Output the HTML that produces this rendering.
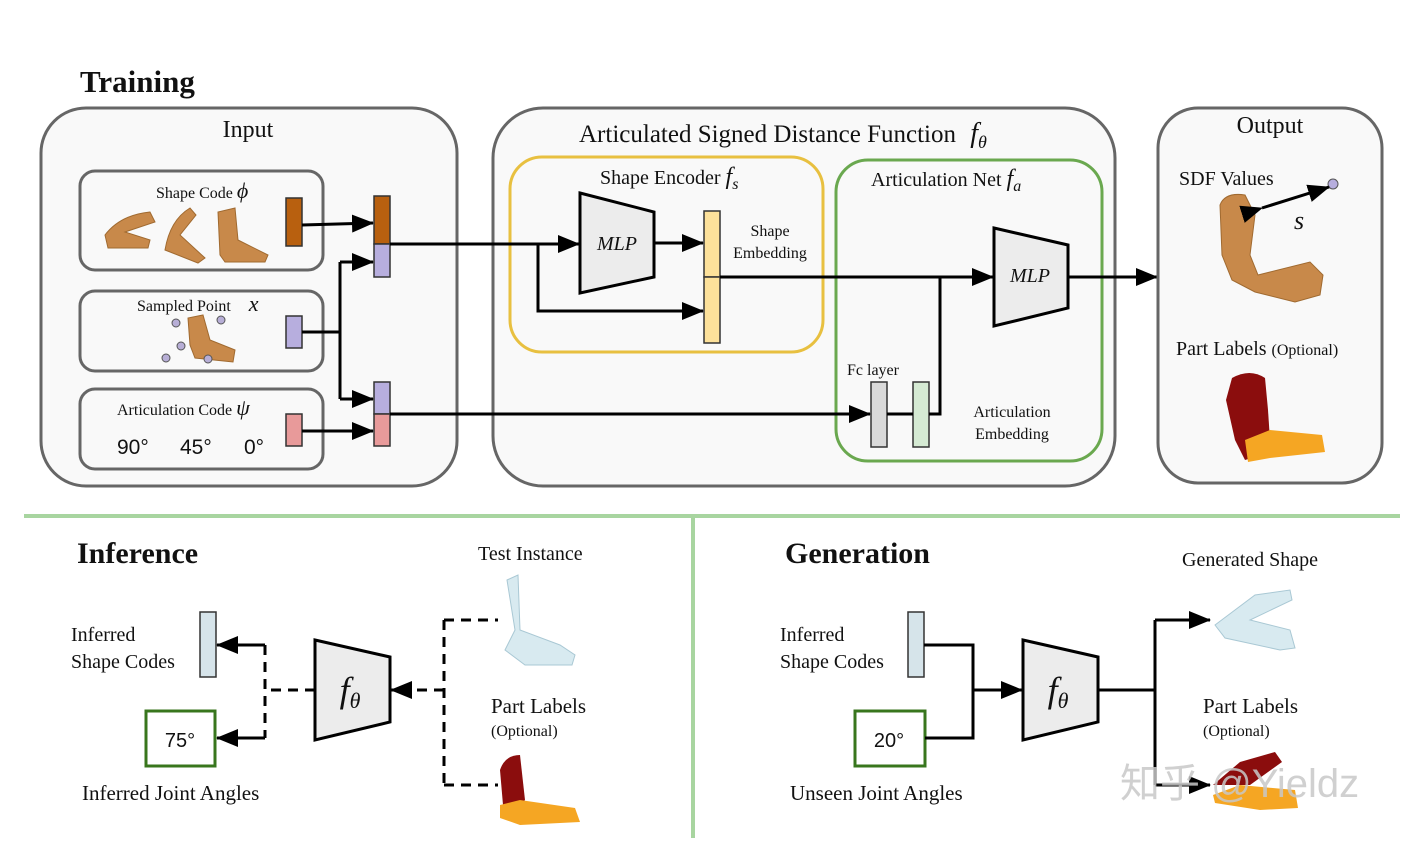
<!DOCTYPE html>
<html><head><meta charset="utf-8"><style>
html,body{margin:0;padding:0;background:#fff;}
svg{display:block;}
text{font-family:"Liberation Serif",serif;fill:#111;}
.s{font-family:"Liberation Sans",sans-serif;}
</style></head><body>
<svg width="1410" height="841" viewBox="0 0 1410 841" xmlns="http://www.w3.org/2000/svg">
<defs>
<marker id="b" markerWidth="22" markerHeight="18" refX="21" refY="9" orient="auto" markerUnits="userSpaceOnUse"><path d="M0,0 L22,9 L0,18z" fill="#000"/></marker>
</defs>
<text x="80" y="92" font-size="31" font-weight="bold">Training</text>

<!-- Input -->
<rect x="41" y="108" width="416" height="378" rx="45" fill="#f9f9f9" stroke="#666" stroke-width="3"/>
<text x="248" y="137" font-size="24" text-anchor="middle">Input</text>
<rect x="80" y="171" width="243" height="99" rx="15" fill="#f9f9f9" stroke="#666" stroke-width="3"/>
<rect x="80" y="291" width="243" height="80" rx="15" fill="#f9f9f9" stroke="#666" stroke-width="3"/>
<rect x="80" y="389" width="243" height="80" rx="15" fill="#f9f9f9" stroke="#666" stroke-width="3"/>
<text x="156" y="198" font-size="16">Shape Code <tspan font-style="italic" font-size="22">ϕ</tspan></text>
<text x="137" y="311" font-size="16">Sampled Point <tspan font-style="italic" font-size="22" dx="14">x</tspan></text>
<text x="117" y="415" font-size="16">Articulation Code <tspan font-style="italic" font-size="22">ψ</tspan></text>
<text x="117" y="454" font-size="21" class="s">90°</text>
<text x="180" y="454" font-size="21" class="s">45°</text>
<text x="244" y="454" font-size="21" class="s">0°</text>
<path d="M105,235 Q120,215 150,212 L155,222 L125,232 L150,240 L148,248 L108,248z" fill="#c8894a" stroke="#a06a30"/>
<path d="M165,250 Q170,220 190,208 L196,215 L180,235 L205,258 L198,263z" fill="#c8894a" stroke="#a06a30"/>
<path d="M220,255 L218,212 L235,208 L238,240 L268,255 L265,262 L225,262z" fill="#c8894a" stroke="#a06a30"/>
<path d="M190,345 L188,318 L203,315 L210,340 L235,350 L233,362 L195,358z" fill="#c8894a" stroke="#a06a30"/>
<g fill="#b7aed6" stroke="#555"><circle cx="176" cy="323" r="4"/><circle cx="221" cy="320" r="4"/><circle cx="181" cy="346" r="4"/><circle cx="166" cy="358" r="4"/><circle cx="208" cy="359" r="4"/></g>
<rect x="286" y="198" width="16" height="48" fill="#b8600f" stroke="#333" stroke-width="1.5"/>
<rect x="286" y="316" width="16" height="32" fill="#b7aede" stroke="#333" stroke-width="1.5"/>
<rect x="286" y="414" width="16" height="32" fill="#e89a9a" stroke="#333" stroke-width="1.5"/>
<rect x="374" y="196" width="16" height="48" fill="#b8600f" stroke="#333" stroke-width="1.5"/>
<rect x="374" y="244" width="16" height="33" fill="#b7aede" stroke="#333" stroke-width="1.5"/>
<rect x="374" y="382" width="16" height="32" fill="#b7aede" stroke="#333" stroke-width="1.5"/>
<rect x="374" y="414" width="16" height="32" fill="#e89a9a" stroke="#333" stroke-width="1.5"/>
<g stroke="#000" stroke-width="3" fill="none">
<path d="M302,225 L373,223" marker-end="url(#b)"/>
<path d="M302,332 L340,332 M340,262 L340,399"/>
<path d="M340,262 L373,262" marker-end="url(#b)"/>
<path d="M340,399 L373,399" marker-end="url(#b)"/>
<path d="M302,431 L373,431" marker-end="url(#b)"/>
</g>

<!-- ASDF -->
<rect x="493" y="108" width="622" height="378" rx="50" fill="#f9f9f9" stroke="#666" stroke-width="3"/>
<text x="579" y="142" font-size="25">Articulated Signed Distance Function <tspan font-style="italic" font-size="28" dx="8">f</tspan><tspan font-style="italic" font-size="18" dy="6">θ</tspan></text>
<rect x="510" y="157" width="313" height="195" rx="32" fill="none" stroke="#e8c040" stroke-width="3"/>
<rect x="836" y="160" width="266" height="301" rx="32" fill="none" stroke="#6aa84f" stroke-width="3"/>
<text x="600" y="184" font-size="20">Shape Encoder <tspan font-style="italic" font-size="24">f</tspan><tspan font-style="italic" font-size="16" dy="5">s</tspan></text>
<text x="871" y="186" font-size="20">Articulation Net <tspan font-style="italic" font-size="24">f</tspan><tspan font-style="italic" font-size="16" dy="5">a</tspan></text>
<path d="M580,193 L654,212 L654,277 L580,293z" fill="#ececec" stroke="#000" stroke-width="3"/>
<text x="617" y="250" font-size="20" font-style="italic" text-anchor="middle">MLP</text>
<path d="M994,228 L1068,245 L1068,308 L994,326z" fill="#ececec" stroke="#000" stroke-width="3"/>
<text x="1030" y="282" font-size="20" font-style="italic" text-anchor="middle">MLP</text>
<rect x="704" y="211" width="16" height="66" fill="#fde19a" stroke="#333" stroke-width="1.5"/>
<rect x="704" y="277" width="16" height="66" fill="#fde19a" stroke="#333" stroke-width="1.5"/>
<text x="770" y="236" font-size="16" text-anchor="middle">Shape</text>
<text x="770" y="258" font-size="16" text-anchor="middle">Embedding</text>
<text x="847" y="375" font-size="16">Fc layer</text>
<rect x="871" y="382" width="16" height="65" fill="#d9d9d9" stroke="#333" stroke-width="1.5"/>
<rect x="913" y="382" width="16" height="65" fill="#d5ead3" stroke="#333" stroke-width="1.5"/>
<text x="1012" y="417" font-size="16" text-anchor="middle">Articulation</text>
<text x="1012" y="439" font-size="16" text-anchor="middle">Embedding</text>
<g stroke="#000" stroke-width="3" fill="none">
<path d="M390,244 L579,244" marker-end="url(#b)"/>
<path d="M538,244 L538,311 L703,311" marker-end="url(#b)"/>
<path d="M654,243 L703,243" marker-end="url(#b)"/>
<path d="M720,277 L993,277" marker-end="url(#b)"/>
<path d="M940,277 L940,414 L929,414 M887,414 L913,414"/>
<path d="M390,414 L870,414" marker-end="url(#b)"/>
<path d="M1068,277 L1157,277" marker-end="url(#b)"/>
</g>

<!-- Output -->
<rect x="1158" y="108" width="224" height="375" rx="40" fill="#f9f9f9" stroke="#666" stroke-width="3"/>
<text x="1270" y="133" font-size="24" text-anchor="middle">Output</text>
<text x="1179" y="185" font-size="20">SDF Values</text>
<path d="M1220,205 Q1225,192 1245,195 L1255,215 L1250,255 L1258,275 L1310,262 L1323,275 L1320,295 L1295,302 L1255,292 L1232,280 L1222,255z" fill="#c8894a" stroke="#a06a30"/>
<circle cx="1333" cy="184" r="5" fill="#b7aede" stroke="#555"/>
<path d="M1262,208 L1329,187" stroke="#000" stroke-width="3" marker-start="url(#b)" marker-end="url(#b)" fill="none"/>
<text x="1294" y="229" font-size="26" font-style="italic">s</text>
<text x="1176" y="355" font-size="20">Part Labels <tspan font-size="16">(Optional)</tspan></text>
<path d="M1232,378 Q1250,368 1265,378 L1268,410 L1270,440 L1262,455 L1245,460 L1235,440 L1226,400z" fill="#8b0d0d"/>
<path d="M1245,440 L1270,430 L1322,435 L1325,452 L1270,458 L1248,462z" fill="#f5a623"/>

<line x1="24" y1="516" x2="1400" y2="516" stroke="#a8d5a0" stroke-width="4"/>
<line x1="693" y1="516" x2="693" y2="838" stroke="#a8d5a0" stroke-width="4"/>

<!-- Inference -->
<text x="77" y="563" font-size="30" font-weight="bold">Inference</text>
<text x="478" y="560" font-size="20">Test Instance</text>
<text x="71" y="641" font-size="20">Inferred</text>
<text x="71" y="668" font-size="20">Shape Codes</text>
<rect x="200" y="612" width="16" height="65" fill="#d6e4ea" stroke="#333" stroke-width="1.5"/>
<rect x="146" y="711" width="69" height="55" fill="#fff" stroke="#38761d" stroke-width="3"/>
<text x="180" y="747" font-size="20" class="s" text-anchor="middle">75°</text>
<text x="82" y="800" font-size="21">Inferred Joint Angles</text>
<path d="M315,640 L390,657 L390,722 L315,740z" fill="#ececec" stroke="#000" stroke-width="3"/>
<text x="350" y="702" font-size="36" font-style="italic" text-anchor="middle">f<tspan font-size="22" dy="6">θ</tspan></text>
<text x="491" y="713" font-size="21">Part Labels</text>
<text x="491" y="736" font-size="16">(Optional)</text>
<path d="M507,580 L518,575 L520,630 L560,645 L575,655 L572,665 L525,665 L505,650 L515,630z" fill="#d8eaf0" stroke="#a9c8d4"/>
<path d="M500,770 Q505,755 520,755 L525,800 L515,810 L503,805z" fill="#8b0d0d"/>
<path d="M500,805 L520,800 L575,808 L580,822 L520,825 L500,818z" fill="#f5a623"/>
<g stroke="#000" stroke-width="3" fill="none" stroke-dasharray="10,7">
<path d="M315,690 L265,690 M265,645 L265,738"/>
<path d="M444,620 L444,785 M444,620 L498,620 M444,785 L498,785 M444,690 L410,690"/>
</g>
<g stroke="#000" stroke-width="3" fill="none">
<path d="M265,645 L217,645" marker-end="url(#b)"/>
<path d="M265,738 L217,738" marker-end="url(#b)"/>
<path d="M412,690 L391,690" marker-end="url(#b)"/>
</g>

<!-- Generation -->
<text x="785" y="563" font-size="30" font-weight="bold">Generation</text>
<text x="1182" y="566" font-size="20">Generated Shape</text>
<text x="780" y="641" font-size="20">Inferred</text>
<text x="780" y="668" font-size="20">Shape Codes</text>
<rect x="908" y="612" width="16" height="65" fill="#d6e4ea" stroke="#333" stroke-width="1.5"/>
<rect x="855" y="711" width="70" height="55" fill="#fff" stroke="#38761d" stroke-width="3"/>
<text x="889" y="747" font-size="20" class="s" text-anchor="middle">20°</text>
<text x="790" y="800" font-size="21">Unseen Joint Angles</text>
<path d="M1023,640 L1098,657 L1098,722 L1023,740z" fill="#ececec" stroke="#000" stroke-width="3"/>
<text x="1058" y="702" font-size="36" font-style="italic" text-anchor="middle">f<tspan font-size="22" dy="6">θ</tspan></text>
<text x="1203" y="713" font-size="21">Part Labels</text>
<text x="1203" y="736" font-size="16">(Optional)</text>
<path d="M1215,625 L1255,595 L1290,590 L1292,600 L1250,620 L1290,630 L1295,648 L1280,650 L1225,638z" fill="#d8eaf0" stroke="#a9c8d4"/>
<path d="M1213,785 L1240,762 L1275,752 L1282,762 L1250,785z" fill="#8b0d0d"/>
<path d="M1213,795 L1240,785 L1295,790 L1298,808 L1260,810 L1215,803z" fill="#f5a623"/>
<g stroke="#000" stroke-width="3" fill="none">
<path d="M924,645 L973,645 L973,738 L925,738"/>
<path d="M973,690 L1022,690" marker-end="url(#b)"/>
<path d="M1098,690 L1155,690 M1155,620 L1155,785"/>
<path d="M1155,620 L1210,620" marker-end="url(#b)"/>
<path d="M1155,785 L1210,785" marker-end="url(#b)"/>
</g>
<text x="1120" y="797" font-size="40" style="fill:#c8c8c8;font-family:'Liberation Sans','Noto Sans CJK SC',sans-serif" opacity="0.85">知乎 @Yieldz</text>
</svg>
</body></html>
